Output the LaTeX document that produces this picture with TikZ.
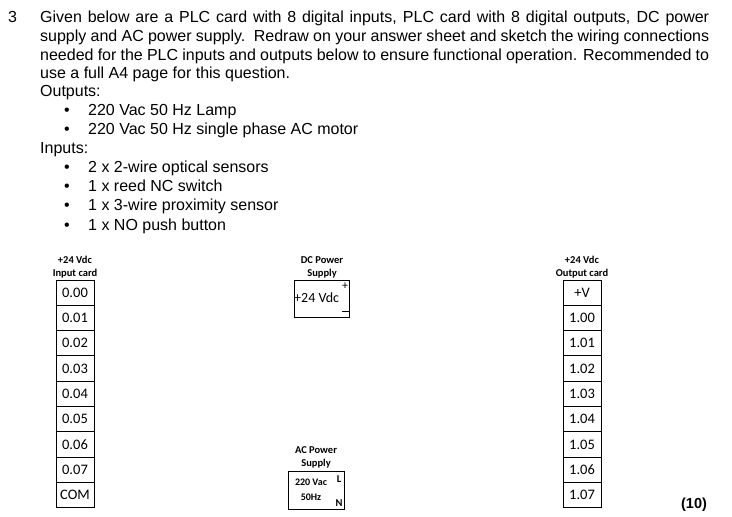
\documentclass[tikz,border=0pt]{standalone}
\usepackage{fontspec}
\setmainfont{Liberation Sans}
\newfontfamily\carl{Carlito}
\begin{document}
\begin{tikzpicture}[x=1pt,y=-1pt,
  txt/.style={anchor=base west,inner sep=0pt,font=\fontsize{16}{18}\selectfont},
  lbl/.style={inner sep=0pt,align=center,font=\carl\bfseries\fontsize{10.5}{13}\selectfont},
  cell/.style={draw,thick,minimum width=38pt,minimum height=25.3pt,inner sep=0pt,font=\carl\fontsize{14.5}{15}\selectfont}]
\useasboundingbox (0,0) rectangle (732,517);
\node[txt] (n) at (8,22) {3};
\node[txt] (l1) at (40,22) {\makebox[669pt][s]{Given below are a PLC card with 8 digital inputs, PLC card with 8 digital outputs, DC power}};
\node[txt] (l2) at (40,41) {\makebox[669pt][s]{supply and AC power supply.\ \ Redraw on your answer sheet and sketch the wiring connections}};
\node[txt] (l3) at (40,60) {\makebox[669pt][s]{needed for the PLC inputs and outputs below to ensure functional operation. Recommended to}};
\node[txt] (l4) at (40,78) {use a full A4 page for this question.};
\node[txt] (l5) at (40,96) {Outputs:};
\foreach \y/\t [count=\i] in {115/220 Vac 50 Hz Lamp,134/220 Vac 50 Hz single phase AC motor}{
  \node[txt] (bo\i) at (64,\y) {\textbullet};
  \node[txt] (o\i) at (88,\y) {\t};}
\node[txt] (l6) at (40,153) {Inputs:};
\foreach \y/\t [count=\i] in {172/2 x 2-wire optical sensors,191/1 x reed NC switch,210/1 x 3-wire proximity sensor,230/1 x NO push button}{
  \node[txt] (bi\i) at (64,\y) {\textbullet};
  \node[txt] (i\i) at (88,\y) {\t};}
% input card
\node[lbl] (inl) at (75,267) {+24 Vdc\\Input card};
\foreach \t [count=\i from 0] in {0.00,0.01,0.02,0.03,0.04,0.05,0.06,0.07,COM}
  \node[cell] (in\i) at (75,{292.6+25.3*\i}) {\t};
% output card
\node[lbl] (outl) at (582,267) {+24 Vdc\\Output card};
\foreach \t [count=\i from 0] in {+V,1.00,1.01,1.02,1.03,1.04,1.05,1.06,1.07}
  \node[cell] (out\i) at (582,{292.6+25.3*\i}) {\t};
% DC supply
\node[lbl] (dcl) at (322,267) {DC Power\\Supply};
\draw[thick] (294,280) rectangle (349,317);
\node[inner sep=0pt,anchor=west,font=\carl\fontsize{14}{15}\selectfont] (dct) at (294,298) {+24 Vdc};
\node[inner sep=0pt,font=\carl\fontsize{12}{12}\selectfont] (dcp) at (345,286) {+};
\draw[thick] (342,311) -- (349,311);
% AC supply
\node[lbl] (acl) at (316,457) {AC Power\\Supply};
\draw[thick] (288,471) rectangle (344,509);
\node[lbl,align=center,font=\carl\bfseries\fontsize{10}{15}\selectfont] (act) at (311,490) {220 Vac\\50Hz};
\node[lbl] (acL) at (339,479) {L};
\node[lbl] (acN) at (339,503) {N};
\node[inner sep=0pt,font=\bfseries\fontsize{14.5}{15}\selectfont] (pts) at (694,505) {(10)};
\end{tikzpicture}
\end{document}
